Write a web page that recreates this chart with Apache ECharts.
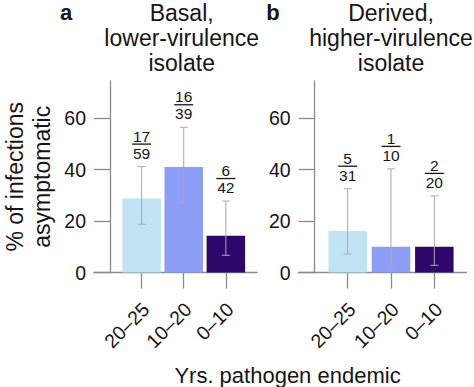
<!DOCTYPE html>
<html>
<head>
<meta charset="utf-8">
<script src="https://cdn.jsdelivr.net/npm/echarts@6/dist/echarts.min.js"></script>
<style>
html,body{margin:0;padding:0;background:#fff;}
#chart{width:474px;height:387px;}
</style>
</head>
<body>
<div id="chart"></div>
<script>
// ---- data ----
const categories = ['20–25', '10–20', '0–10'];
const catPositions = [0, 1, 2];
const yTicks = [0, 20, 40, 60];
const barColors = ['#c0e4f4', '#8c9ef5', '#2f066b'];

const basalValues = [28.8, 41.0, 14.3];
const basalLow = [18.8, 26.9, 6.7];
const basalHigh = [41.2, 56.5, 27.8];
const basalNum = [17, 16, 6];
const basalDen = [59, 39, 42];

const derivedValues = [16.1, 10.0, 10.0];
const derivedLow = [7.2, 1.9, 2.8];
const derivedHigh = [32.6, 40.3, 29.8];
const derivedNum = [5, 1, 2];
const derivedDen = [31, 10, 20];

const panelTitles = ['Basal,\nlower-virulence\nisolate', 'Derived,\nhigher-virulence\nisolate'];
const panelLetters = ['a', 'b'];
const yName = '% of infections\nasymptomatic';
const xName = 'Yrs. pathogen endemic';

// ---- styles ----
const FONT = 'Liberation Sans, Arial, Helvetica, sans-serif';
const AXIS = '#8a8a8a';
const TXT = '#151515';
const ERR = '#a9a9a9';
const labelShift = 0.1;

function xAxisCfg(gridIndex) {
  return {
    type: 'value', gridIndex, min: -1.13, max: 2.74,
    splitLine: {show: false},
    axisLine: {show: true, onZero: false, lineStyle: {color: AXIS, width: 1.3}},
    axisTick: {show: true, length: 16, customValues: catPositions, lineStyle: {color: AXIS, width: 1.3}},
    axisLabel: {
      customValues: catPositions.map(v => v + labelShift),
      formatter: v => categories[Math.round(v - labelShift)],
      rotate: 45, margin: 33.5, fontSize: 19.5, color: TXT, fontFamily: FONT
    }
  };
}
function yAxisCfg(gridIndex, withName) {
  const cfg = {
    type: 'value', gridIndex, min: 0, max: 74.5, offset: -16,
    splitLine: {show: false},
    axisLine: {show: true, onZero: false, lineStyle: {color: AXIS, width: 1.3}},
    axisTick: {show: true, length: 16, customValues: yTicks, lineStyle: {color: AXIS, width: 1.3}},
    axisLabel: {customValues: yTicks, margin: 24, fontSize: 19.5, color: TXT, fontFamily: FONT}
  };
  if (withName) {
    cfg.name = yName;
    cfg.nameLocation = 'middle';
    cfg.nameRotate = 90;
    cfg.nameGap = 55;
    cfg.nameTextStyle = {fontSize: 23, lineHeight: 27, color: TXT, fontFamily: FONT};
  }
  return cfg;
}
function barSeries(idx, values) {
  return {
    type: 'bar', xAxisIndex: idx, yAxisIndex: idx, barWidth: 38.5,
    data: values.map((v, i) => ({value: [catPositions[i], v], itemStyle: {color: barColors[i]}})),
    z: 2
  };
}
function errSeries(idx, low, high) {
  return {
    type: 'custom', xAxisIndex: idx, yAxisIndex: idx, z: 3, clip: false,
    data: low.map((l, i) => [catPositions[i], l, high[i]]),
    renderItem: (params, api) => {
      const x = api.value(0);
      const lo = api.coord([x, api.value(1)]);
      const hi = api.coord([x, api.value(2)]);
      const st = {stroke: ERR, lineWidth: 1};
      return {type: 'group', children: [
        {type: 'line', shape: {x1: lo[0], y1: lo[1], x2: hi[0], y2: hi[1]}, style: st},
        {type: 'line', shape: {x1: hi[0] - 4, y1: hi[1], x2: hi[0] + 4, y2: hi[1]}, style: st},
        {type: 'line', shape: {x1: lo[0] - 4, y1: lo[1], x2: lo[0] + 4, y2: lo[1]}, style: st}
      ]};
    }
  };
}
function fracSeries(idx, high, num, den) {
  return {
    type: 'custom', xAxisIndex: idx, yAxisIndex: idx, z: 4, clip: false,
    data: high.map((h, i) => [catPositions[i], h, num[i], den[i]]),
    renderItem: (params, api) => {
      const p = api.coord([api.value(0), api.value(1)]);
      const ly = p[1] - 22.5;
      const ts = {fill: TXT, fontSize: 15.5, fontFamily: FONT, align: 'center', verticalAlign: 'middle'};
      return {type: 'group', children: [
        {type: 'text', style: Object.assign({text: String(api.value(2)), x: p[0], y: ly - 8}, ts)},
        {type: 'line', shape: {x1: p[0] - 9.5, y1: ly, x2: p[0] + 9.5, y2: ly}, style: {stroke: TXT, lineWidth: 1.3}},
        {type: 'text', style: Object.assign({text: String(api.value(3)), x: p[0], y: ly + 9}, ts)}
      ]};
    }
  };
}

const chart = echarts.init(document.getElementById('chart'), null, {renderer: 'svg'});
chart.setOption({
  animation: false,
  backgroundColor: '#fff',
  grid: [
    {left: 89.3, top: 81, width: 167.7, height: 191.5},
    {left: 298.7, top: 81, width: 167.7, height: 191.5}
  ],
  xAxis: [xAxisCfg(0), xAxisCfg(1)],
  yAxis: [yAxisCfg(0, true), yAxisCfg(1, false)],
  graphic: [
    {type: 'text', x: 66, y: 12, style: {text: panelLetters[0], font: 'bold 22px ' + FONT, fill: TXT, align: 'center', verticalAlign: 'middle'}},
    {type: 'text', x: 273, y: 12, style: {text: panelLetters[1], font: 'bold 22px ' + FONT, fill: TXT, align: 'center', verticalAlign: 'middle'}},
    {type: 'text', x: 181.7, y: 0, style: {text: panelTitles[0], font: '23px ' + FONT, lineHeight: 25, fill: TXT, align: 'center', verticalAlign: 'top'}},
    {type: 'text', x: 391, y: 0, style: {text: panelTitles[1], font: '23px ' + FONT, lineHeight: 25, fill: TXT, align: 'center', verticalAlign: 'top'}},
    {type: 'text', x: 287.5, y: 375, style: {text: xName, font: '22px ' + FONT, fill: TXT, align: 'center', verticalAlign: 'middle'}}
  ],
  series: [
    barSeries(0, basalValues), errSeries(0, basalLow, basalHigh), fracSeries(0, basalHigh, basalNum, basalDen),
    barSeries(1, derivedValues), errSeries(1, derivedLow, derivedHigh), fracSeries(1, derivedHigh, derivedNum, derivedDen)
  ]
});
</script>
</body>
</html>
